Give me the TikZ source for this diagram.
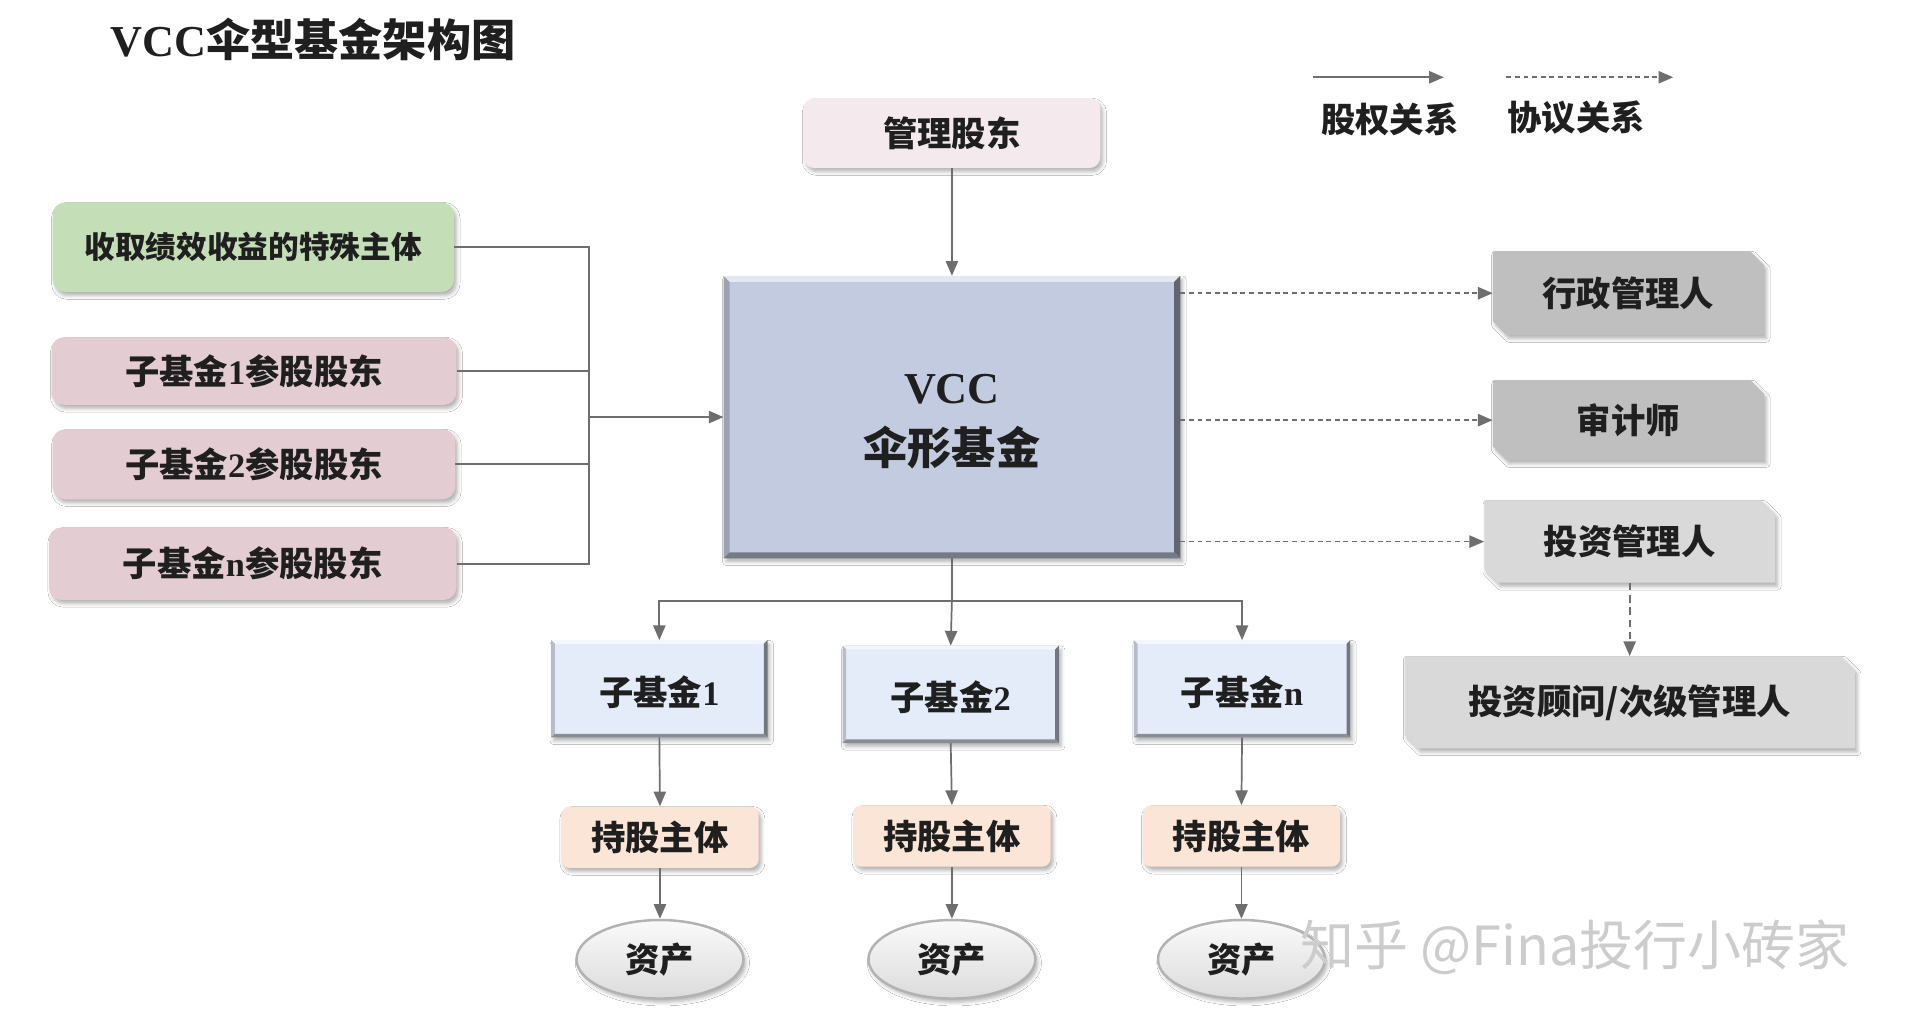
\documentclass[tikz,border=0pt]{standalone}
\usepackage{fontspec}
\setmainfont{Liberation Serif}
\newfontfamily\cjk{Noto Sans CJK SC}
\usetikzlibrary{arrows.meta,shapes.misc,shapes.geometric,shadows.blur,calc}
\definecolor{linec}{HTML}{6E6E6E}
\definecolor{mgrc}{HTML}{F4EAED}
\definecolor{greenc}{HTML}{C4DEB7}
\definecolor{pinkc}{HTML}{E4CDD2}
\definecolor{vccc}{HTML}{C3CBE0}
\definecolor{darkg}{HTML}{BFBFBF}
\definecolor{lightg}{HTML}{D9D9D9}
\definecolor{fundc}{HTML}{E4ECFA}
\definecolor{holdc}{HTML}{FBE5D6}
\newcommand\lat[1]{{\rmfamily\bfseries #1}}
\newcommand\mybevel[3]{%
  \fill[#3!45!white] (#1.north west) -- (#1.north east) -- ([xshift=-#2,yshift=-#2]#1.north east) -- ([xshift=#2,yshift=-#2]#1.north west) -- cycle;
  \fill[#3!80!black] (#1.north west) -- (#1.south west) -- ([xshift=#2,yshift=#2]#1.south west) -- ([xshift=#2,yshift=-#2]#1.north west) -- cycle;
  \fill[#3!50!black] (#1.north east) -- (#1.south east) -- ([xshift=-#2,yshift=#2]#1.south east) -- ([xshift=-#2,yshift=-#2]#1.north east) -- cycle;
  \fill[#3!60!black] (#1.south west) -- (#1.south east) -- ([xshift=-#2,yshift=#2]#1.south east) -- ([xshift=#2,yshift=#2]#1.south west) -- cycle;
}
\tikzset{
  base/.style={font=\cjk\bfseries\fontsize{28}{33}\selectfont, text=black!88, inner sep=0pt, align=center},
  shadowed/.style={blur shadow={shadow xshift=2pt, shadow yshift=-3pt, shadow blur radius=3pt, shadow opacity=30}},
  mgrbox/.style={base, rounded corners=9pt, fill=mgrc, minimum width=242pt, minimum height=57pt, shadowed},
  vccbox/.style={fill=vccc, minimum width=372pt, minimum height=230pt, inner sep=0pt, shadowed},
  vcctxt/.style={base, font=\cjk\bfseries\fontsize{36}{42}\selectfont},
  leftbox/.style={base, rounded corners=10pt, shadowed},
  chbox/.style={base, chamfered rectangle, chamfered rectangle corners={north east,south west}, chamfered rectangle xsep=8pt, shadowed},
  fbox/.style={fill=fundc, minimum width=176pt, minimum height=79pt, inner sep=0pt, shadowed},
  hbox/.style={base, rounded corners=7pt, fill=holdc, minimum width=161pt, minimum height=50pt, shadowed},
  abox/.style={base, ellipse, minimum width=136pt, minimum height=64pt, top color=gray!4, bottom color=gray!28, draw=gray!60, line width=2pt, shadowed},
  legend/.style={base},
  plain/.style={draw=linec, line width=1.4pt},
  conn/.style={plain, -{Triangle[length=12pt,width=10pt]}},
  agree/.style={conn, dash pattern=on 4pt off 3pt},
  agree2/.style={conn, dash pattern=on 6pt off 4pt},
}
\begin{document}
\begin{tikzpicture}[x=1pt,y=-1pt]
\useasboundingbox[fill=white] (0,0) rectangle (1566,835);

% title
\node[anchor=west, inner sep=0pt, font=\fontsize{36}{40}\selectfont, text=black!88] (title) at (90,32) {\lat{VCC}{\cjk\bfseries 伞型基金架构图}};

% legend
\coordinate (l1a) at (1070,63);
\coordinate (l1b) at (1177,63);
\coordinate (l2a) at (1228,63);
\coordinate (l2b) at (1364,63);
\draw[conn] (l1a) -- (l1b);
\draw[agree] (l2a) -- (l2b);
\node[legend] (lg1) at (1133,97) {股权关系};
\node[legend] (lg2) at (1285,96) {协议关系};

% main nodes
\node[mgrbox] (mgr) at (776,108.5) {管理股东};
\node[vccbox] (vcc) at (776,340) {};
\mybevel{vcc}{5pt}{vccc}
\node[vcctxt] (vcctext) at (776,344) {\lat{VCC}\\[8pt]伞形基金};

% left
\node[leftbox, fill=greenc, minimum width=327pt, minimum height=73pt, font=\cjk\bfseries\fontsize{25}{30}\selectfont] (perf) at (206.5,201.5) {收取绩效收益的特殊主体};
\node[leftbox, fill=pinkc, minimum width=330pt, minimum height=55pt] (s1s) at (207,302.5) {子基金\lat{1}参股股东};
\node[leftbox, fill=pinkc, minimum width=328pt, minimum height=57pt] (s2s) at (207,378.5) {子基金\lat{2}参股股东};
\node[leftbox, fill=pinkc, minimum width=332pt, minimum height=59pt] (sns) at (206,459.5) {子基金\lat{n}参股股东};

% right
\node[chbox, fill=darkg, minimum width=221pt, minimum height=68pt] (adm) at (1327.5,239) {行政管理人};
\node[chbox, fill=darkg, minimum width=221pt, minimum height=65pt] (aud) at (1327.5,342.5) {审计师};
\node[chbox, fill=lightg, minimum width=237pt, minimum height=67pt] (inv) at (1328.5,441.5) {投资管理人};
\node[chbox, fill=lightg, minimum width=367pt, minimum height=75pt] (adv) at (1328.5,572.5) {投资顾问/次级管理人};

% sub funds
\node[fbox] (f1) at (537.5,561.5) {};
\node[fbox] (f2) at (775,566) {};
\node[fbox] (fn) at (1012.5,561.5) {};
\mybevel{f1}{3pt}{fundc}
\mybevel{f2}{3pt}{fundc}
\mybevel{fn}{3pt}{fundc}
\node[base] (f1t) at (537.5,564) {子基金\lat{1}};
\node[base] (f2t) at (775,568) {子基金\lat{2}};
\node[base] (fnt) at (1012.5,564) {子基金\lat{n}};

% holders
\node[hbox] (h1) at (538,682.5) {持股主体};
\node[hbox] (h2) at (776,681.5) {持股主体};
\node[hbox] (hn) at (1012,681.5) {持股主体};

% assets
\node[abox] (a1) at (538,782) {资产};
\node[abox] (a2) at (776,782) {资产};
\node[abox] (an) at (1012,782) {资产};

% connectors
\draw[conn] (mgr.south) -- (vcc.north);
\coordinate (bus) at (480,340);
\draw[plain] (perf.east) -| (bus);
\draw[plain] (s1s.east) -| (bus);
\draw[plain] (s2s.east) -| (bus);
\draw[plain] (sns.east) -| (bus);
\draw[conn] (bus) -- (vcc.west);

\draw[agree] (vcc.east |- adm.west) -- (adm.west);
\draw[agree] (vcc.east |- aud.west) -- (aud.west);
\draw[agree] (vcc.east |- inv.west) -- (inv.west);
\draw[agree2] (inv.south) -- (adv.north);

\coordinate (split) at (776,490);
\draw[plain] (vcc.south) -- (split);
\draw[conn] (split) -| (f1.north);
\draw[conn] (split) -- (f2.north);
\draw[conn] (split) -| (fn.north);

\draw[conn] (f1.south) -- (h1.north);
\draw[conn] (f2.south) -- (h2.north);
\draw[conn] (fn.south) -- (hn.north);
\draw[conn] (h1.south) -- (a1.north);
\draw[conn] (h2.south) -- (a2.north);
\draw[conn] (hn.south) -- (an.north);

% watermark
\node[anchor=west, inner sep=0pt, font=\cjk\fontsize{44}{48}\selectfont, text=gray!40] (wm) at (1060,772) {知乎 @Fina投行小砖家};
\end{tikzpicture}
\end{document}
